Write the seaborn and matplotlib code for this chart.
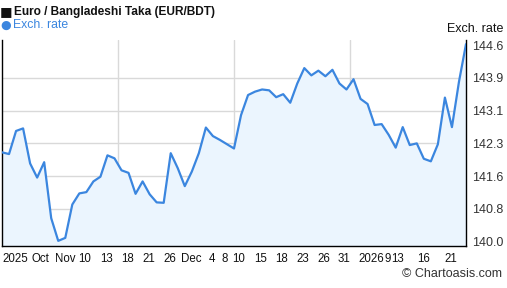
import matplotlib
matplotlib.use("Agg")
import matplotlib.pyplot as plt
import seaborn as sns
import pandas as pd
import numpy as np

# ---- data ----
rates = [142.09, 142.05, 142.59, 142.65, 141.83, 141.50, 141.86, 140.55, 140.02, 140.09,
         140.87, 141.13, 141.16, 141.41, 141.52, 142.02, 141.95, 141.67, 141.61, 141.12,
         141.41, 141.11, 140.92, 140.91, 142.07, 141.72, 141.30, 141.64, 142.07, 142.67,
         142.47, 142.38, 142.28, 142.18, 142.96, 143.43, 143.51, 143.56, 143.54, 143.38,
         143.45, 143.25, 143.70, 144.06, 143.89, 144.00, 143.87, 144.02, 143.70, 143.56,
         143.80, 143.34, 143.22, 142.73, 142.75, 142.50, 142.20, 142.68, 142.26, 142.30,
         141.94, 141.88, 142.28, 143.37, 142.68, 143.74, 144.62]
day_index = list(range(len(rates)))

x_tick_pos = [0.0, 5.4, 9.0, 11.7, 14.9, 17.9, 20.9, 23.9, 26.9, 29.9, 31.7, 33.7,
              36.8, 39.8, 42.8, 45.8, 48.6, 52.5, 54.8, 56.2, 60.0, 63.9]
x_tick_labels = ["2025", "Oct", "Nov", "10", "13", "18", "21", "26", "Dec", "4", "8", "10",
                 "15", "18", "23", "26", "31", "2026", "9", "13", "16", "21"]
y_ticks = [140.0, 140.7667, 141.5333, 142.3, 143.0667, 143.8333, 144.6]
y_tick_labels = ["140.0", "140.8", "141.6", "142.3", "143.1", "143.9", "144.6"]

title = "Euro / Bangladeshi Taka (EUR/BDT)"
series_name = "Exch. rate"

df = pd.DataFrame({"idx": day_index, "rate": rates})

# ---- style ----
sns.set_theme(style="white")
plt.rcParams["font.family"] = ["Liberation Sans", "DejaVu Sans"]

LINE = "#3B86DF"
FILL = "#EBF5FE"
GRID = "#D9D9D9"

W, H = 507, 288
fig = plt.figure(figsize=(W / 100, H / 100), dpi=100)
ax = fig.add_axes([2 / W, (H - 246) / H, 464 / W, 206 / H])

ax.fill_between(df["idx"], df["rate"], 139.0, color=FILL, zorder=1, lw=0)
sns.lineplot(data=df, x="idx", y="rate", ax=ax, color=LINE, lw=1.6, zorder=3)

ax.set_xlim(0, 66)
ax.set_ylim(139.90, 144.717)

# grid: horizontal at interior ticks, vertical at quarters
for v in y_ticks[1:-1]:
    ax.axhline(v, color=GRID, lw=1.0, zorder=0.5)
for q in (16.5, 33.0, 49.5):
    ax.axvline(q, color=GRID, lw=1.0, zorder=0.5)

ax.yaxis.tick_right()
ax.set_yticks(y_ticks)
ax.set_yticklabels(y_tick_labels)
ax.set_xticks(x_tick_pos)
ax.set_xticklabels(x_tick_labels)
ax.tick_params(axis="y", length=0, pad=4.5, labelsize=9, labelcolor="#333333")
ax.tick_params(axis="x", length=0, pad=5, labelsize=8.3, labelcolor="#111111")
xl = ax.get_xticklabels()
xl[0].set_horizontalalignment("left")
ax.set_xlabel("")
ax.set_ylabel("")

for s in ("left", "right", "bottom"):
    ax.spines[s].set_visible(True)
    ax.spines[s].set_color("black")
    ax.spines[s].set_linewidth(1.0)
ax.spines["top"].set_visible(False)

# header texts
fig.text(0 / W, 1 - 12 / H, "\u25A0", fontsize=9.5, color="#111111", va="center", ha="left",
         family="DejaVu Sans")
fig.text(14 / W, 1 - 12 / H, title, fontsize=8.6, fontweight="bold", color="#111111",
         va="center", ha="left")
fig.text(0 / W, 1 - 25.5 / H, "\u25CF", fontsize=8.8, color=LINE, va="center", ha="left",
         family="DejaVu Sans")
fig.text(13 / W, 1 - 25.5 / H, series_name, fontsize=8.8, color=LINE, va="center", ha="left")
fig.text(503 / W, 1 - 29 / H, series_name, fontsize=9, color="#111111", va="center", ha="right")
fig.text(502 / W, 1 - 274 / H, "\u00A9 Chartoasis.com", fontsize=9, color="#333333",
         va="center", ha="right")

fig.savefig("out.png", dpi=100)
